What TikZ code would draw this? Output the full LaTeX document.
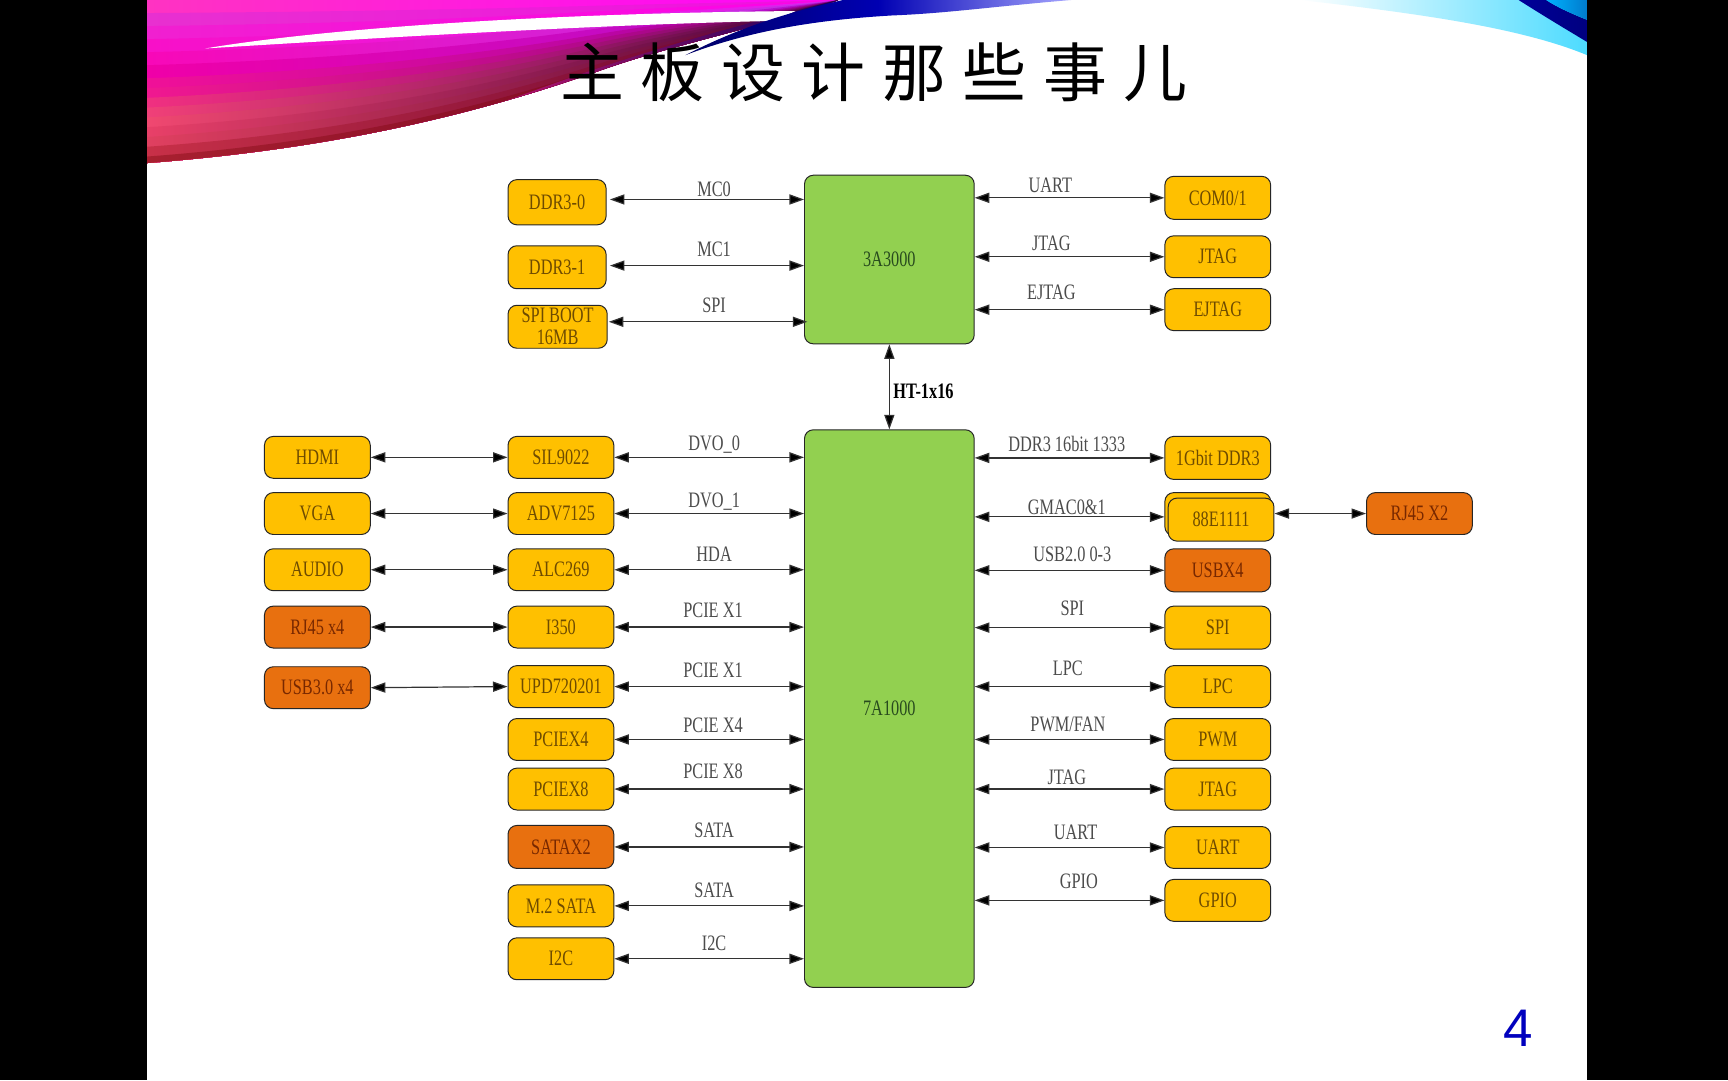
\documentclass[tikz,border=0pt]{standalone}
\usepackage{fontspec}
\setmainfont{Liberation Sans}
\newfontfamily\boxfont[FakeStretch=0.74]{Liberation Serif}
\newfontfamily\cjkfont{Noto Sans CJK SC}
\usetikzlibrary{arrows.meta,calc}
\definecolor{yel}{HTML}{FFC000}
\definecolor{grn}{HTML}{92D050}
\definecolor{org}{HTML}{E8700F}
\tikzset{
  x=0.5pt,y=-0.5pt,
  bx/.style={draw=black!85,line width=0.45pt,rounded corners=4pt,inner sep=0pt,align=center,
    font=\boxfont\fontsize{10}{10}\selectfont},
  yb/.style={bx,fill=yel,text={rgb,255:red,110;green,75;blue,0}},
  ob/.style={bx,fill=org,text={rgb,255:red,120;green,40;blue,0}},
  gb/.style={bx,fill=grn,text={rgb,255:red,40;green,75;blue,30}},
  lab/.style={inner sep=0pt,font=\boxfont\fontsize{10}{12}\selectfont,text=black!70},
  conn/.style={draw=black!80,line width=0.55pt,{Triangle[length=6.6pt,width=4.6pt,fill=black]}-{Triangle[length=6.6pt,width=4.6pt,fill=black]}}
}
\newcommand{\bxn}[7]{\node[#6,minimum width={(#4-#2)*0.5pt},minimum height={(#5-#3)*0.5pt}] (#1) at ({(#2+#4)/2},{(#3+#5)/2}) {#7};}
\newcommand{\lb}[4]{\node[lab] (#1) at (#2,#3) {#4};}
\begin{document}
\begin{tikzpicture}
\useasboundingbox (0,0) rectangle (1568,980);
\fill[white] (0,0) rectangle (1568,980);
% swoosh left
\begin{scope}
\clip (133,148) .. controls (300,135) and (430,105) .. (550,62) .. controls (620,38) and (690,25) .. (761,0) -- (133,0) -- cycle;
\shade[left color=red!30!magenta!80,right color=magenta] (133,0) rectangle (800,150);
\foreach \t/\l/\r in {
 0.08/E830D0/F010E0,0.16/F020D0/FF00E8,0.24/F810C8/E020F0,0.32/F808B8/C030E8,
 0.40/F000A8/B010D0,0.48/F01098/A000A8,0.54/F01890/900088,0.60/F03080/780070,
 0.66/F04078/600058,0.72/F04870/500048,0.78/E84068/480040,0.84/E04060/500038,0.90/C83048/600030,0.96/A82030/700020}{
  \definecolor{cl}{HTML}{\l}\definecolor{cr}{HTML}{\r}
  \shade[left color=cl,right color=cr] (133,148*\t) .. controls (300,135*\t) and (430,105*\t) .. (550,62*\t) .. controls (620,38*\t) and (690,25*\t) .. (761,0) -- (761,150) -- (133,150) -- cycle;
}
\shade[left color={rgb,255:red,190;green,20;blue,110},right color={rgb,255:red,20;green,0;blue,90}]
  (440,98) .. controls (500,78) and (560,50) .. (761,0) -- (761,40) -- (440,110) -- cycle;
\end{scope}
% white streak
\fill[white] (186,44) .. controls (300,25) and (500,12) .. (722,10) -- (702,19) .. controls (560,22) and (380,32) .. (186,44) -- cycle;
% dark band
\shade[left color=black!60!blue,right color=blue!35!white,middle color=blue!70!black]
 (622,50) .. controls (680,20) and (730,8) .. (765,0) -- (972,0) .. controls (900,6) and (860,12) .. (810,14) .. controls (740,18) and (680,28) .. (622,50) -- cycle;
% right swoosh
\shade[left color=white,right color=cyan!80!blue!70] (1180,0) .. controls (1285,12) and (1380,25) .. (1440,50) -- (1440,0) -- cycle;
\shade[left color=blue!60!black,right color=black!50!blue] (1378,0) .. controls (1400,14) and (1420,26) .. (1440,38) -- (1440,18) .. controls (1425,12) and (1412,6) .. (1403,0) -- cycle;
\shade[left color=cyan!70!blue,right color=cyan!60!blue!80!black] (1403,0) .. controls (1412,6) and (1425,12) .. (1440,18) -- (1440,0) -- cycle;
% side bars
\fill[black] (0,0) rectangle (133,980);
\fill[black] (1440,0) rectangle (1568,980);
% title
\node[inner sep=0pt,text=black,font=\cjkfont\fontsize{29}{32}\selectfont] (title) at (793,66) {主\hspace{7.5pt}板\hspace{7.5pt}设\hspace{7.5pt}计\hspace{7.5pt}那\hspace{7.5pt}些\hspace{7.5pt}事\hspace{7.5pt}儿};
% boxes
\bxn{ddra}{461}{163}{550}{204}{yb}{DDR3-0}
\bxn{ddrb}{461}{223}{550}{262}{yb}{DDR3-1}
\bxn{spib}{461}{277}{551}{316}{yb}{SPI BOOT\\16MB}
\bxn{cpu}{730}{159}{884}{312}{gb}{3A3000}
\bxn{pch}{730}{390}{884}{896}{gb}{7A1000}
\bxn{com}{1057}{160}{1153}{199}{yb}{COM0/1}
\bxn{jta}{1057}{214}{1153}{252}{yb}{JTAG}
\bxn{ejt}{1057}{262}{1153}{300}{yb}{EJTAG}
\bxn{hdmi}{240}{396}{336}{434}{yb}{HDMI}
\bxn{vga}{240}{447}{336}{485}{yb}{VGA}
\bxn{aud}{240}{498}{336}{536}{yb}{AUDIO}
\bxn{rja}{240}{550}{336}{588}{ob}{RJ45 x4}
\bxn{usba}{240}{605}{336}{643}{ob}{USB3.0 x4}
\bxn{sil}{461}{396}{557}{434}{yb}{SIL9022}
\bxn{adv}{461}{447}{557}{485}{yb}{ADV7125}
\bxn{alc}{461}{498}{557}{536}{yb}{ALC269}
\bxn{ith}{461}{550}{557}{588}{yb}{I350}
\bxn{upd}{461}{604}{557}{642}{yb}{UPD720201}
\bxn{pcif}{461}{652}{557}{690}{yb}{PCIEX4}
\bxn{pcie}{461}{697}{557}{735}{yb}{PCIEX8}
\bxn{sata}{461}{749}{557}{788}{ob}{SATAX2}
\bxn{msat}{461}{803}{557}{841}{yb}{M.2 SATA}
\bxn{itc}{461}{851}{557}{889}{yb}{I2C}
\bxn{gdd}{1057}{396}{1153}{435}{yb}{1Gbit DDR3}
\bxn{back}{1057}{447}{1153}{486}{yb}{}
\bxn{mar}{1060}{452}{1156}{491}{yb}{88E1111}
\bxn{usbx}{1057}{498}{1153}{537}{ob}{USBX4}
\bxn{spir}{1057}{550}{1153}{589}{yb}{SPI}
\bxn{lpc}{1057}{604}{1153}{642}{yb}{LPC}
\bxn{pwm}{1057}{652}{1153}{690}{yb}{PWM}
\bxn{jtr}{1057}{697}{1153}{735}{yb}{JTAG}
\bxn{uar}{1057}{750}{1153}{788}{yb}{UART}
\bxn{gpi}{1057}{798}{1153}{836}{yb}{GPIO}
\bxn{rjb}{1240}{447}{1336}{485}{ob}{RJ45 X2}
% connectors
\draw[conn,shorten <=1.5pt] ([yshift=1.25pt]ddra.east) -- ([yshift=1.25pt]ddra.east -| cpu.west);
\draw[conn,shorten <=1.5pt] ([yshift=0.75pt]ddrb.east) -- ([yshift=0.75pt]ddrb.east -| cpu.west);
\draw[conn,shorten <=0.5pt,shorten >=-1.5pt] ([yshift=2.25pt]spib.east) -- ([yshift=2.25pt]spib.east -| cpu.west);
\foreach \a in {com,jta,ejt}{\draw[conn] (\a.west -| cpu.east) -- (\a.west);}
\draw[conn] (cpu.south) -- (pch.north);
\foreach \a/\b in {hdmi/sil,vga/adv,aud/alc,rja/ith,usba/upd}{\draw[conn] (\a.east) -- (\b.west);}
\foreach \a in {sil,adv,alc,ith,upd,pcif,pcie,sata,msat,itc}{\draw[conn] (\a.east) -- (\a.east -| pch.west);}
\foreach \a in {gdd,usbx,spir,lpc,pwm,jtr,uar,gpi}{\draw[conn] (\a.west -| pch.east) -- (\a.west);}
\draw[conn] ([yshift=-1.25pt]back.west -| pch.east) -- ([yshift=-1.25pt]back.west);
\draw[conn] ([yshift=2.75pt]mar.east) -- (rjb.west);
% labels
\lb{la}{648}{172}{MC0}
\lb{lb}{648}{226}{MC1}
\lb{lc}{648}{277}{SPI}
\lb{ld}{953}{168}{UART}
\lb{le}{954}{221}{JTAG}
\lb{lf}{954}{265}{EJTAG}
\node[lab,text=black,font=\boxfont\bfseries\fontsize{10}{12}\selectfont] (lht) at (838,355) {HT-1x16};
\lb{lg}{648}{403}{DVO\_0}
\lb{lh}{648}{455}{DVO\_1}
\lb{li}{648}{503}{HDA}
\lb{lj}{647}{554}{PCIE X1}
\lb{lk}{647}{608}{PCIE X1}
\lb{ll}{647}{658}{PCIE X4}
\lb{lm}{647}{700}{PCIE X8}
\lb{ln}{648}{753}{SATA}
\lb{lo}{648}{808}{SATA}
\lb{lp}{648}{856}{I2C}
\lb{lq}{968}{403}{DDR3 16bit 1333}
\lb{lr}{968}{460}{GMAC0\&1}
\lb{ls}{973}{503}{USB2.0 0-3}
\lb{lt}{973}{552}{SPI}
\lb{lu}{969}{606}{LPC}
\lb{lv}{969}{657}{PWM/FAN}
\lb{lw}{968}{705}{JTAG}
\lb{lx}{976}{755}{UART}
\lb{ly}{979}{800}{GPIO}
\node[inner sep=0pt,text={rgb,255:red,0;green,0;blue,190},font=\fontsize{24}{26}\selectfont] (num) at (1378,933) {4};
\end{tikzpicture}
\end{document}
